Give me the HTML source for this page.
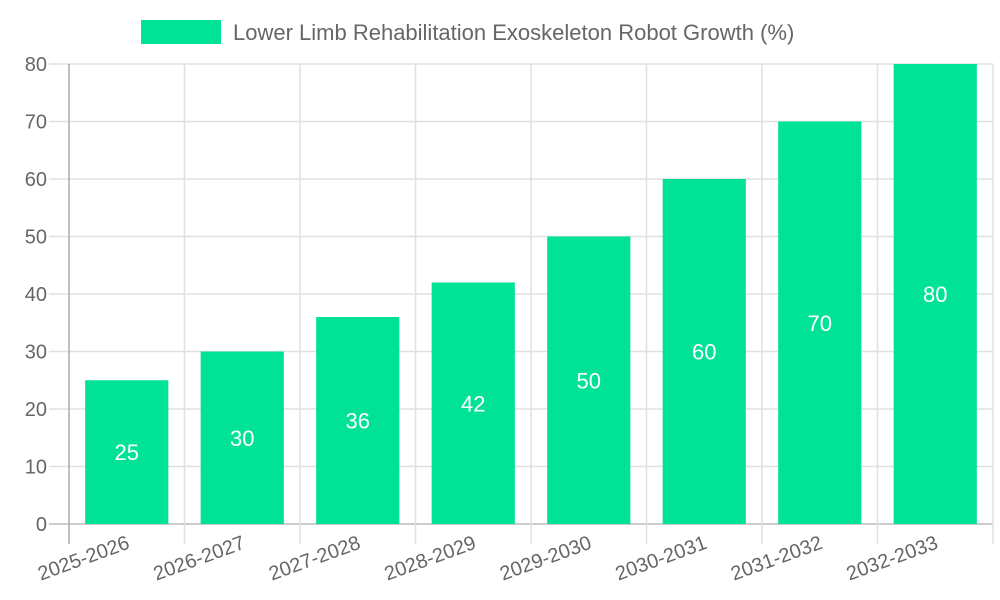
<!DOCTYPE html>
<html><head><meta charset="utf-8"><style>body{margin:0;background:#fff}svg{display:block}</style></head>
<body>
<svg id="chart" width="1000" height="600" xmlns="http://www.w3.org/2000/svg" font-family="Liberation Sans, sans-serif">
<g>
<rect x="141" y="20" width="80" height="24" fill="#00E396"/>
<text x="233" y="40" font-size="22" fill="#666">Lower Limb Rehabilitation Exoskeleton Robot Growth (%)</text>
</g>
<g id="grid"></g><g id="bars"></g><g id="labels"></g>
</svg>
<script>
const categories=["2025-2026","2026-2027","2027-2028","2028-2029","2029-2030","2030-2031","2031-2032","2032-2033"];
const values=[25,30,36,42,50,60,70,80];
const yTicks=[0,10,20,30,40,50,60,70,80];
const NS="http://www.w3.org/2000/svg";
const L=69,R=993,T=64,B=524,yMax=80;
const bandW=(R-L)/categories.length;
const x=i=>L+bandW*i;
const y=v=>B-(v/yMax)*(B-T);
function mk(tag,attrs,parent){const e=document.createElementNS(NS,tag);for(const k in attrs)e.setAttribute(k,attrs[k]);document.getElementById(parent).appendChild(e);return e;}
yTicks.forEach(t=>{
 const g=mk('line',{x1:49,x2:R,y1:y(t),y2:y(t),stroke:t===0?'#bbb':'#e0e0e0','stroke-width':1.5},'grid');
 
 
 const tx=mk('text',{x:47,y:y(t)+7,'text-anchor':'end','font-size':20,fill:'#666'},'grid');
 tx.textContent=t;
 
 
});
for(let i=0;i<=categories.length;i++){
 const g=mk('line',{x1:x(i),x2:x(i),y1:T,y2:544,stroke:i===0?'#aaa':'#e0e0e0','stroke-width':1.5},'grid');
 
 
}
categories.forEach((c,i)=>{
 const cx=x(i)+bandW/2,w=bandW*0.72;
 const r=mk('rect',{x:cx-w/2,y:y(values[i]),width:w,height:B-y(values[i]),fill:'#00E396'},'bars');
 
 
 const v=mk('text',{x:cx,y:(y(values[i])+B)/2+8,'text-anchor':'middle','font-size':22,fill:'#fff'},'labels');
 v.textContent=values[i];
 
 
 const lx=cx+4,ly=548;
 const t=mk('text',{x:lx,y:ly,'text-anchor':'end','font-size':20,fill:'#666',transform:`rotate(-20 ${lx} ${ly})`},'labels');
 t.textContent=c;
 
 
});
</script>
</body></html>
